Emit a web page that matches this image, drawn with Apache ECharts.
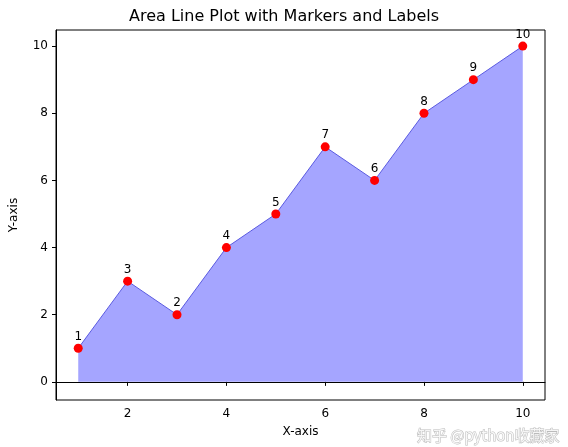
<!DOCTYPE html>
<html><head><meta charset="utf-8">
<script src="https://cdn.jsdelivr.net/npm/echarts@6/dist/echarts.min.js"></script>
<style>html,body{margin:0;padding:0;background:#fff}#c{width:568px;height:447px}</style>
</head><body><div id="c"></div>
<script>
const xValues = [1,2,3,4,5,6,7,8,9,10];
const yValues = [1,3,2,4,5,7,6,8,9,10];
const xTicks = [2,4,6,8,10];
const yTicks = [0,2,4,6,8,10];
const chart = echarts.init(document.getElementById('c'));
const font = 'DejaVu Sans';
chart.setOption({
  animation:false,
  textStyle:{fontFamily:font},
  title:{text:'Area Line Plot with Markers and Labels',left:'center',top:4,
    textStyle:{fontFamily:font,fontSize:16,fontWeight:'normal',color:'#000'}},
  grid:{left:50,right:23,top:30,bottom:47,show:true,borderColor:'#000',borderWidth:1},
  xAxis:{type:'value',min:0.55,max:10.45,name:'X-axis',nameLocation:'middle',nameGap:26,
    nameTextStyle:{color:'#000',fontSize:12,fontFamily:font},
    axisLine:{lineStyle:{color:'#000'}},splitLine:{show:false},
    axisTick:{show:true,customValues:xTicks,length:4,lineStyle:{color:'#000'}},
    axisLabel:{customValues:xTicks,color:'#000',fontSize:12,fontFamily:font}},
  yAxis:{type:'value',min:-0.54,max:10.48,name:'Y-axis',nameLocation:'middle',nameGap:36,
    nameTextStyle:{color:'#000',fontSize:12,fontFamily:font},
    axisLine:{show:true,lineStyle:{color:'#000'}},splitLine:{show:false},
    axisTick:{show:true,customValues:yTicks,length:4,lineStyle:{color:'#000'}},
    axisLabel:{customValues:yTicks,color:'#000',fontSize:12,fontFamily:font}},
  graphic:[{type:'text',right:8,bottom:4,style:{text:'知乎 @python收藏家',fill:'rgba(255,255,255,0.85)',
    stroke:'rgba(120,120,120,0.5)',lineWidth:1,font:'15px "Noto Sans CJK SC"'}}],
  series:[{type:'line',data:xValues.map((x,i)=>[x,yValues[i]]),
    lineStyle:{color:'#5a5ae0',width:1},
    areaStyle:{color:'rgba(0,0,255,0.5)',origin:0},
    symbol:'circle',symbolSize:9,itemStyle:{color:'#ff0000',borderWidth:0},
    label:{show:true,position:'top',distance:1,color:'#000',fontSize:12,fontFamily:font,
      formatter:p=>String(p.value[1])}}]
});
</script></body></html>
